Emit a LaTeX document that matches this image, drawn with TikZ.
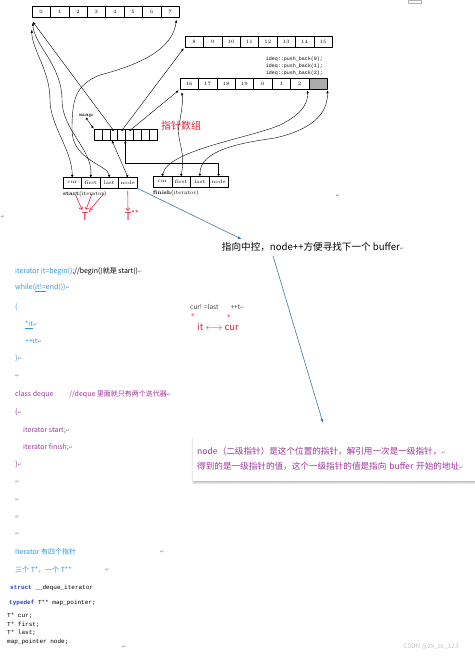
\documentclass[tikz,border=0pt]{standalone}
\usepackage{fontspec}
\newfontfamily\cjk{Noto Sans CJK SC}
\newfontfamily\codefont{Liberation Mono}
\newfontfamily\symfont{DejaVu Sans}
\usetikzlibrary{arrows.meta,shadows.blur}
\definecolor{codeblue}{HTML}{3096D8}
\definecolor{notepurple}{HTML}{A0359C}
\definecolor{penred}{HTML}{E8203A}
\definecolor{linkblue}{HTML}{3D78A6}
\definecolor{kwblue}{HTML}{2E3FC0}
\newcommand{\ret}{{\symfont\fontsize{5}{5}\selectfont\textcolor{gray}{↵}}}
\tikzset{
  cellbox/.style={draw, line width=0.5pt, inner sep=0pt, minimum height=11pt, font=\fontsize{5}{5}\selectfont},
  ptr/.style={{Circle[length=2.2pt]}-{Latex[length=3pt,width=2.4pt]}, line width=0.4pt},
  codeline/.style={anchor=west, inner sep=0pt, font=\cjk\fontsize{7}{9}\selectfont},
  monoline/.style={anchor=west, inner sep=0pt, font=\codefont\fontsize{6}{8}\selectfont},
  penmark/.style={text=penred, inner sep=0pt, font=\cjk\fontsize{10}{10}\selectfont},
  penarrow/.style={-{Straight Barb[length=2pt]}, penred, line width=0.6pt},
  bluearrow/.style={-{Latex[length=4pt,width=3pt]}, linkblue, line width=0.6pt},
}
\begin{document}
\begin{tikzpicture}[x=1pt, y=-1pt, line join=round, line cap=round]
\useasboundingbox (0,0) rectangle (474,656);
\draw[gray!60] (408,0) rectangle (421,3);
% buffers
\foreach \t [count=\i from 0] in {0,...,7}
  \node[cellbox, minimum width=18.4pt] (buf1-\i) at (41.2+18.4*\i,12) {\t};
\foreach \t [count=\i from 0] in {8,...,15}
  \node[cellbox, minimum width=18.4pt] (buf2-\i) at (194.2+18.4*\i,41.5) {\t};
\foreach \t [count=\i from 0] in {16,17,18,19,0,1,2}
  \node[cellbox, minimum width=18.4pt] (buf3-\i) at (189.2+18.4*\i,83.5) {\t};
\node[cellbox, minimum width=18.4pt, fill=gray!65] (buf3-7) at (318,83.5) {};
\node[anchor=east, inner sep=0pt, align=left, font=\codefont\fontsize{5}{7}\selectfont] (pushes) at (323,66)
  {ideq::push\_back(0);\\ideq::push\_back(1);\\ideq::push\_back(2);};
% map
\foreach \i in {0,...,7}
  \node[cellbox, minimum width=7.9pt] (map\i) at (97.95+7.9*\i,134.5) {};
\node[inner sep=0pt, font=\bfseries\fontsize{5}{5}\selectfont] (maplbl) at (86,116) {map};
\node[penmark] (ptrarray) at (181,126) {指针数组};
% iterators
\foreach \t [count=\i] in {cur,first,last,node}
  \node[cellbox, minimum width=18.5pt] (st\i) at (53.75+18.5*\i,182.5) {\t};
\foreach \t [count=\i] in {cur,first,last,node}
  \node[cellbox, minimum width=18.75pt] (fin\i) at (143.625+18.75*\i,181.5) {\t};
\node[anchor=west, inner sep=0pt, font=\fontsize{5.5}{5.5}\selectfont] (stlbl) at (63,194) {\textbf{start}(iterator)};
\node[anchor=west, inner sep=0pt, font=\fontsize{5.5}{5.5}\selectfont] (finlbl) at (153,193) {\textbf{finish}(iterator)};
% map pointers
\draw[ptr] (maplbl.south) -- (map0.north west);
\draw[ptr] ([yshift=-2pt]map2.north) -- ([shift={(1,4)}]buf1-0.south west);
\draw[ptr] ([yshift=-2pt]map3.north) -- ([shift={(-1,1)}]buf2-0.south west);
\draw[ptr] ([yshift=-2pt]map4.north) -- ([shift={(-1,1)}]buf3-0.south west);
% start
\draw[ptr] (st1.north) .. controls (72,150) and (50,125) .. (50,100) .. controls (50,70) and (32,50) .. ([shift={(0,12)}]buf1-0.south west);
\draw[ptr] (st2.north) .. controls (93,150) and (62,130) .. (62,100) .. controls (62,65) and (34,45) .. ([shift={(1,5)}]buf1-0.south west);
\draw[ptr] (st3.north) .. controls (108,165) and (72,160) .. (72,130) .. controls (72,100) and (75,85) .. (100,75) .. controls (150,62) and (173,45) .. ([shift={(-3,2)}]buf1-7.south east);
\draw[ptr] (st4.north) -- ([xshift=-2pt]map2.south);
% finish
\draw[ptr] (fin1.north) .. controls (168,150) and (250,138) .. (280,125) .. controls (300,115) and (308,105) .. ([shift={(-1,1)}]buf3-7.south west);
\draw[ptr] (fin2.north) .. controls (186,150) and (176,140) .. (179,125) .. controls (182,110) and (183,100) .. ([shift={(2,3)}]buf3-0.south west);
\draw[ptr] (fin3.north) .. controls (200,150) and (240,143) .. (275,138) .. controls (310,130) and (328,115) .. ([shift={(0,1)}]buf3-7.south east);
\draw[ptr] (fin4.north) -- ++(0,-13) -| (map4.south west);
\node[inner sep=0pt] at (338,196) {\ret};
\node[inner sep=0pt] at (3,217) {\ret};
% red notes
\node[penmark, font=\cjk\fontsize{11}{11}\selectfont] (tstar) at (87,215) {T\textsuperscript{*}};
\node[penmark, font=\cjk\fontsize{11}{11}\selectfont] (tdstar) at (132,215) {T\textsuperscript{**}};
\draw[penarrow] ([shift={(3,6)}]st1.south) -- ([xshift=-5pt]tstar.north);
\draw[penarrow] ([shift={(1,6)}]st2.south) -- ([xshift=-1pt]tstar.north);
\draw[penarrow] ([shift={(-5,5)}]st3.south) -- ([xshift=3pt]tstar.north);
\draw[penarrow] ([yshift=-3pt]st4.south) -- ([xshift=-4pt,yshift=-1pt]tdstar.north);
% blue notes
\node[inner sep=0pt, font=\cjk\fontsize{9.6}{9.6}\selectfont] (midnote) at (313,247) {指向中控，node++方便寻找下一个 buffer\ret};
\draw[bluearrow] (st4.south east) -- ([shift={(20,-3)}]midnote.north west);
\node[fill=white, blur shadow={shadow blur steps=8, shadow xshift=0pt, shadow yshift=-1.5pt, shadow opacity=30}, anchor=north west,
  text width=275pt, minimum height=45pt, inner sep=4pt, align=left, text=notepurple,
  font=\cjk\fontsize{8.6}{15}\selectfont] (notebox) at (193,436)
  {node（二级指针）是这个位置的指针，解引用一次是一级指针，\ret\\得到的是一级指针的值，这个一级指针的值是指向 buffer 开始的地址\ret};
\draw[bluearrow] ([shift={(-40,4)}]midnote.south) -- (323,423);
% code
\node[codeline] (code1) at (15,271) {\textcolor{codeblue}{iterator it=begin()};//begin()就是 start()\ret};
\node[codeline, text=codeblue] (code2) at (15,288) {while(\underline{it!=}end())\ret};
\node[codeline, text=codeblue] (code3) at (15,307) {\{};
\node[codeline, text=codeblue] (code4) at (25,325) {\underline{*it}\ret};
\node[codeline, text=codeblue] (code5) at (25,341) {++it\ret};
\node[codeline, text=codeblue] (code6) at (15,358) {\}\ret};
\node[codeline] (code7) at (15,376) {\ret};
\node[codeline, text=notepurple] (code8) at (15,394) {class deque\hspace{16pt}//deque 里面就只有两个迭代器\ret};
\node[codeline, text=notepurple] (code9) at (15,412) {\{\ret};
\node[codeline, text=notepurple] (code10) at (23,430) {iterator start;\ret};
\node[codeline, text=notepurple] (code11) at (23,447) {iterator finish;\ret};
\node[codeline, text=notepurple] (code12) at (15,464) {\}\ret};
\foreach \y in {482,500,517,534}
  \node[codeline] at (15,\y) {\ret};
\node[codeline, text=codeblue] (code13) at (15,552) {Iterator 有四个指针};
\node[codeline] at (160,552) {\ret};
\node[codeline, text=codeblue] (code14) at (15,570) {三个 T*，一个 T**};
\node[codeline] at (105,570) {\ret};
\node[monoline] (mono1) at (10,588) {\textcolor{kwblue}{\bfseries struct} \_\_deque\_iterator};
\node[monoline] (mono2) at (9,603) {\textcolor{kwblue}{\bfseries typedef} T** map\_pointer;};
\node[monoline, align=left, font=\codefont\fontsize{6}{8.4}\selectfont] (mono3) at (7,629) {T* cur;\\T* first;\\T* last;\\map\_pointer node;};
\node[codeline] at (122,647) {\ret};
% side notes
\node[anchor=west, inner sep=0pt, text=black!75, font=\cjk\fontsize{6.5}{6.5}\selectfont] (curlast) at (190,307) {cur!\hspace{2pt}=last\hspace{12pt}++t\ret};
\node[penmark, font=\cjk\fontsize{9.5}{9.5}\selectfont, anchor=west] (itcur) at (197,327) {it $\longleftrightarrow$ cur};
\node[penmark, font=\fontsize{8}{8}\selectfont] at (193,316) {*};
\node[penmark, font=\fontsize{8}{8}\selectfont] at (229,317) {*};
\node[text=gray!45, inner sep=0pt, font=\cjk\fontsize{6.5}{6.5}\selectfont] (mark) at (431,647) {CSDN @zx\_zx\_123};
\end{tikzpicture}
\end{document}
